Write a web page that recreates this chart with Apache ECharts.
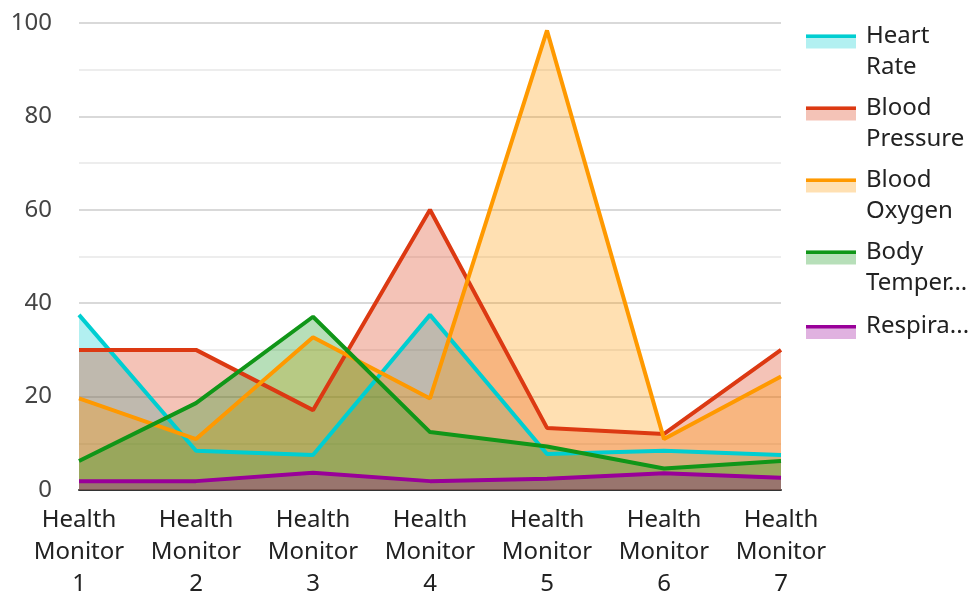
<!DOCTYPE html>
<html>
<head>
<meta charset="utf-8">
<script src="https://cdn.jsdelivr.net/npm/echarts@6/dist/echarts.min.js"></script>
<style>html,body{margin:0;padding:0;background:#fff}#c{width:973px;height:594px}</style>
</head>
<body>
<div id="c"></div>
<script>
var categories = ['Health Monitor 1','Health Monitor 2','Health Monitor 3','Health Monitor 4','Health Monitor 5','Health Monitor 6','Health Monitor 7'];
var heartRate = [37.5, 8.4, 7.5, 37.5, 7.7, 8.4, 7.5];
var bloodPressure = [30, 30, 17.1, 60, 13.3, 12, 30];
var bloodOxygen = [19.6, 10.9, 32.7, 19.6, 98.4, 10.9, 24.3];
var bodyTemp = [6.2, 18.6, 37.1, 12.4, 9.3, 4.6, 6.2];
var respiration = [1.9, 1.9, 3.7, 1.9, 2.4, 3.6, 2.6];
var seriesNames = ['Heart Rate','Blood Pressure','Blood Oxygen','Body Temperature','Respiration'];
var legendLabels = {'Heart Rate':'Heart\nRate','Blood Pressure':'Blood\nPressure','Blood Oxygen':'Blood\nOxygen','Body Temperature':'Body\nTemper...','Respiration':'Respira...'};
var colors = ['#00CED1','#DC3912','#FF9900','#109618','#990099'];
var values = [heartRate, bloodPressure, bloodOxygen, bodyTemp, respiration];

// legend icon shapes (icon box 55 x 35)
var areaIconTwoLine = 'path://M0,0H50V14H0Z M55,35H55V35H55Z';
var lineIconTwoLine = 'path://M0,0H50V3.5H0Z M55,35H55V35H55Z';
var areaIconOneLine = 'path://M55,0H55V0H55Z M0,16H50V30H0Z M55,35H55V35H55Z';
var lineIconOneLine = 'path://M55,0H55V0H55Z M0,16H50V19.5H0Z M55,35H55V35H55Z';

function legendData(kind){
  return seriesNames.map(function(n){
    var single = legendLabels[n].indexOf('\n') < 0;
    var icon = kind === 'area' ? (single ? areaIconOneLine : areaIconTwoLine) : (single ? lineIconOneLine : lineIconTwoLine);
    return {name: n, icon: icon};
  });
}

var chart = echarts.init(document.getElementById('c'));
var font = 'Noto Sans';
var legendBase = {
  orient: 'vertical', left: 806, top: 21, padding: 0,
  itemWidth: 55, itemHeight: 35, itemGap: 10, symbolKeepAspect: false,
  formatter: function(n){return legendLabels[n];},
  selectedMode: false
};
chart.setOption({
  color: colors,
  animation: false,
  grid: {left: 79, right: 192, top: 23, bottom: 104, outerBoundsMode: 'none', containLabel: false},
  legend: [
    Object.assign({}, legendBase, {
      data: legendData('area'),
      itemStyle: {opacity: 0.3, borderWidth: 0},
      textStyle: {fontFamily: font, fontSize: 24, color: '#222', lineHeight: 31}
    }),
    Object.assign({}, legendBase, {
      data: legendData('line'),
      itemStyle: {opacity: 1, borderWidth: 0},
      textStyle: {fontFamily: font, fontSize: 24, color: 'rgba(0,0,0,0)', lineHeight: 31}
    })
  ],
  xAxis: {
    type: 'category', data: categories, boundaryGap: false,
    axisLine: {lineStyle: {color: '#333', width: 2}},
    axisTick: {show: false},
    axisLabel: {interval: 0, hideOverlap: false, fontFamily: font, fontSize: 24, color: '#222', lineHeight: 32, margin: 14,
      formatter: function(v){return v.replace(/ /g,'\n');}}
  },
  yAxis: {
    type: 'value', min: 0, max: 100, interval: 20,
    axisLabel: {fontFamily: font, fontSize: 24, color: '#444', margin: 27},
    splitLine: {lineStyle: {color: '#ccc', width: 1.5}},
    minorTick: {show: false, splitNumber: 2},
    minorSplitLine: {show: true, lineStyle: {color: '#e8e8e8', width: 1.5}}
  },
  series: seriesNames.map(function(n, i){
    return {
      name: n, type: 'line', data: values[i], symbol: 'none',
      lineStyle: {width: 4, color: colors[i]},
      areaStyle: {opacity: 0.3, color: colors[i]}
    };
  })
});
</script>
</body>
</html>
